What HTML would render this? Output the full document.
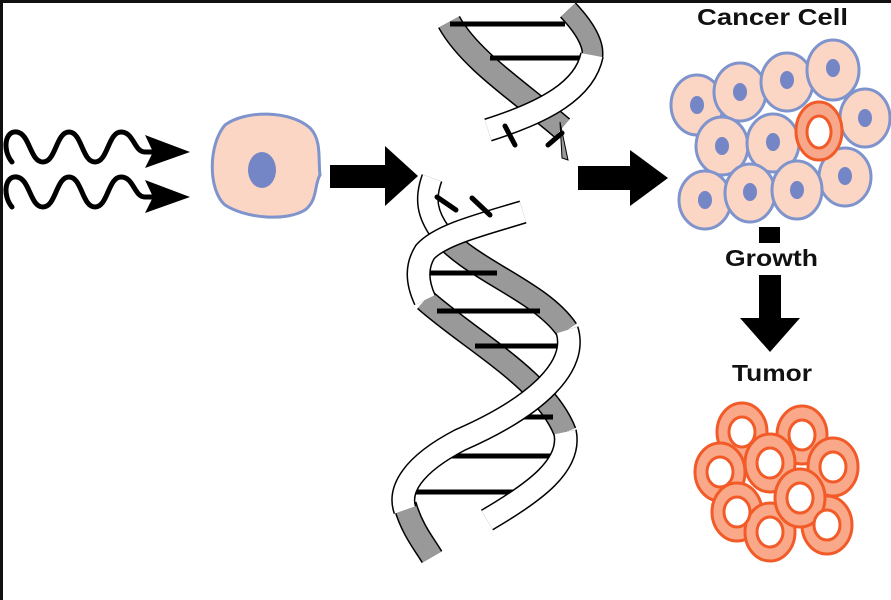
<!DOCTYPE html>
<html><head><meta charset="utf-8"><style>
html,body{margin:0;padding:0;background:#fff;}
svg{display:block;}
text{font-family:"Liberation Sans",sans-serif;font-weight:bold;fill:#111;}
</style></head><body>
<svg width="891" height="600" viewBox="0 0 891 600" xmlns="http://www.w3.org/2000/svg">
<rect width="891" height="600" fill="#fff"/>
<rect x="0" y="0" width="891" height="3" fill="#111"/>
<rect x="0" y="0" width="3" height="600" fill="#111"/>

<!-- wavy arrows -->
<g fill="none" stroke="#000" stroke-width="5" stroke-linecap="round">
<path d="M12,162 C2,150 5,130 17,132 C30,134 30,162 43,162 C56,162 56,132 69,132 C82,132 82,162 95,162 C108,162 108,132 121,132 C134,132 134,152 145,152 L160,152"/>
<path d="M12,207 C2,195 5,175 17,177 C30,179 30,207 43,207 C56,207 56,177 69,177 C82,177 82,207 95,207 C108,207 108,177 121,177 C134,177 134,197 145,197 L160,197"/>
</g>
<polygon points="145,135 190,152 145,168 153,152" fill="#000"/>
<polygon points="145,180 190,197 145,213 153,197" fill="#000"/>

<!-- normal cell -->
<path d="M225,125 C245,110 290,110 310,128 C322,140 318,160 320,175 C314,185 318,200 305,210 C285,222 245,218 225,205 C208,190 208,145 225,125 Z" fill="#fbd6c4" stroke="#7f93cc" stroke-width="3"/>
<ellipse cx="262" cy="170" rx="14" ry="18" fill="#7586c6"/>

<!-- arrows -->
<rect x="330" y="165" width="57" height="23" fill="#000"/>
<polygon points="385,146 418,176 385,206" fill="#000"/>
<rect x="578" y="166" width="54" height="24" fill="#000"/>
<polygon points="630,150 668,178 630,206" fill="#000"/>

<!-- upper DNA fragment -->
<g stroke-linecap="butt" fill="none">
<path d="M449,22 C470,60 520,92 562,128" stroke="#000" stroke-width="25"/>
<path d="M449,22 C470,60 520,92 562,128" stroke="#999" stroke-width="22"/>
<path d="M568,10 C585,28 595,45 592,58" stroke="#000" stroke-width="22"/>
<path d="M568,10 C585,28 595,45 592,58" stroke="#999" stroke-width="19"/>
</g>
<line x1="450" y1="24" x2="565" y2="24" stroke="#000" stroke-width="5"/>
<line x1="490" y1="58" x2="590" y2="58" stroke="#000" stroke-width="5"/>
<g fill="none">
<path d="M592,55 C585,90 545,112 488,130" stroke="#000" stroke-width="24"/>
<path d="M592,55 C585,90 545,112 488,130" stroke="#fff" stroke-width="21"/>
</g>
<path d="M560,122 L568,160 L562,158 Z" fill="#999" stroke="#000" stroke-width="1"/>
<line x1="505" y1="126" x2="515" y2="145" stroke="#000" stroke-width="5" stroke-linecap="round"/>
<line x1="548" y1="145" x2="562" y2="133" stroke="#000" stroke-width="5" stroke-linecap="round"/>

<!-- lower DNA -->
<g fill="none">
<path d="M440,232 C470,270 540,290 567,330" stroke="#000" stroke-width="24"/>
<path d="M440,232 C470,270 540,290 567,330" stroke="#999" stroke-width="21"/>
<path d="M425,300 C470,340 545,380 565,432" stroke="#000" stroke-width="24"/>
<path d="M425,300 C470,340 545,380 565,432" stroke="#999" stroke-width="21"/>
<path d="M405,505 C412,530 425,545 432,557" stroke="#000" stroke-width="24"/>
<path d="M405,505 C412,530 425,545 432,557" stroke="#999" stroke-width="21"/>
</g>
<g stroke="#000" stroke-width="5">
<line x1="428" y1="273" x2="497" y2="273"/>
<line x1="437" y1="311" x2="540" y2="311"/>
<line x1="475" y1="346" x2="557" y2="346"/>
<line x1="493" y1="417" x2="553" y2="417"/>
<line x1="437" y1="456" x2="557" y2="456"/>
<line x1="413" y1="492" x2="527" y2="492"/>
</g>
<g fill="none">
<path d="M432,178 C424,200 428,215 440,232" stroke="#000" stroke-width="22"/>
<path d="M432,178 C424,200 428,215 440,232" stroke="#fff" stroke-width="19"/>
<path d="M523,212 C480,225 440,235 425,252 C415,268 418,285 425,300" stroke="#000" stroke-width="24"/>
<path d="M523,212 C480,225 440,235 425,252 C415,268 418,285 425,300" stroke="#fff" stroke-width="21"/>
<path d="M567,330 C578,365 540,405 460,440 C412,465 398,490 405,510" stroke="#000" stroke-width="24"/>
<path d="M567,330 C578,365 540,405 460,440 C412,465 398,490 405,510" stroke="#fff" stroke-width="21"/>
<path d="M565,432 C572,465 535,492 487,520" stroke="#000" stroke-width="24"/>
<path d="M565,432 C572,465 535,492 487,520" stroke="#fff" stroke-width="21"/>
</g>
<line x1="437" y1="197" x2="456" y2="210" stroke="#000" stroke-width="5" stroke-linecap="round"/>
<line x1="472" y1="198" x2="490" y2="215" stroke="#000" stroke-width="5" stroke-linecap="round"/>

<!-- cancer cells -->
<text x="697" y="25" font-size="23" textLength="151" lengthAdjust="spacingAndGlyphs">Cancer Cell</text>
<g fill="#fbd6c4" stroke="#7f93cc" stroke-width="3">
<ellipse cx="697" cy="105" rx="26" ry="30"/>
<ellipse cx="740" cy="92" rx="26" ry="29"/>
<ellipse cx="787" cy="82" rx="26" ry="29"/>
<ellipse cx="833" cy="70" rx="26" ry="30"/>
<ellipse cx="865" cy="118" rx="25" ry="29"/>
<ellipse cx="722" cy="146" rx="26" ry="29"/>
<ellipse cx="773" cy="143" rx="26" ry="29"/>
<ellipse cx="845" cy="177" rx="26" ry="29"/>
<ellipse cx="705" cy="200" rx="26" ry="29"/>
<ellipse cx="750" cy="193" rx="25" ry="29"/>
<ellipse cx="797" cy="190" rx="25" ry="29"/>
</g>
<g fill="#7586c6">
<ellipse cx="697" cy="105" rx="7" ry="9"/>
<ellipse cx="740" cy="92" rx="7" ry="9"/>
<ellipse cx="787" cy="80" rx="7" ry="9"/>
<ellipse cx="833" cy="68" rx="7" ry="9"/>
<ellipse cx="865" cy="118" rx="7" ry="9"/>
<ellipse cx="722" cy="146" rx="7" ry="9"/>
<ellipse cx="773" cy="142" rx="7" ry="9"/>
<ellipse cx="845" cy="176" rx="7" ry="9"/>
<ellipse cx="705" cy="200" rx="7" ry="9"/>
<ellipse cx="750" cy="192" rx="7" ry="9"/>
<ellipse cx="797" cy="190" rx="7" ry="9"/>
</g>
<ellipse cx="819" cy="131" rx="23" ry="29" fill="#f7a88a" stroke="#f25a28" stroke-width="3"/>
<ellipse cx="819" cy="132" rx="12" ry="16" fill="#fff" stroke="#f25a28" stroke-width="3"/>

<!-- growth arrow -->
<rect x="759" y="227" width="21" height="16" fill="#000"/>
<text x="725" y="266" font-size="23" textLength="93" lengthAdjust="spacingAndGlyphs">Growth</text>
<rect x="759" y="275" width="22" height="45" fill="#000"/>
<polygon points="740,318 800,318 770,352" fill="#000"/>
<text x="732" y="381" font-size="23" textLength="80" lengthAdjust="spacingAndGlyphs">Tumor</text>

<!-- tumor -->
<g fill="#f9a98a" stroke="#f25a28" stroke-width="3">
<ellipse cx="742" cy="432" rx="25" ry="29"/>
<ellipse cx="802" cy="435" rx="25" ry="29"/>
<ellipse cx="720" cy="472" rx="25" ry="29"/>
<ellipse cx="833" cy="467" rx="25" ry="29"/>
<ellipse cx="770" cy="463" rx="25" ry="29"/>
<ellipse cx="737" cy="512" rx="25" ry="29"/>
<ellipse cx="827" cy="525" rx="25" ry="29"/>
<ellipse cx="770" cy="532" rx="25" ry="29"/>
<ellipse cx="800" cy="498" rx="25" ry="29"/>
</g>
<g fill="#fff" stroke="#f25a28" stroke-width="3">
<ellipse cx="742" cy="432" rx="13" ry="15"/>
<ellipse cx="802" cy="435" rx="13" ry="15"/>
<ellipse cx="720" cy="472" rx="13" ry="15"/>
<ellipse cx="833" cy="467" rx="13" ry="15"/>
<ellipse cx="770" cy="463" rx="13" ry="15"/>
<ellipse cx="737" cy="512" rx="13" ry="15"/>
<ellipse cx="827" cy="525" rx="13" ry="15"/>
<ellipse cx="770" cy="532" rx="13" ry="15"/>
<ellipse cx="800" cy="498" rx="13" ry="15"/>
</g>
</svg>
</body></html>
